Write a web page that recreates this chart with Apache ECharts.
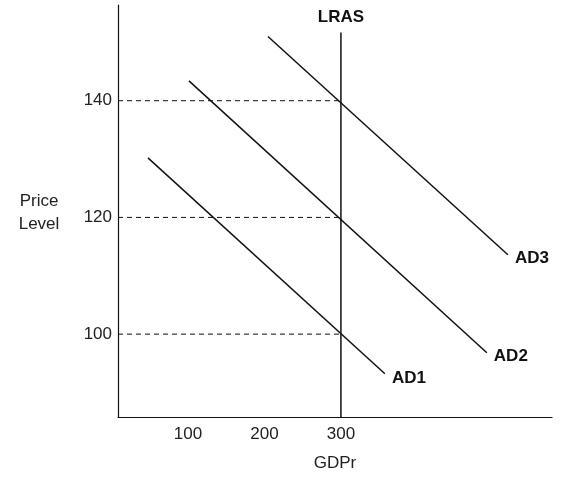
<!DOCTYPE html>
<html><head><meta charset="utf-8">
<script src="https://cdn.jsdelivr.net/npm/echarts@6/dist/echarts.min.js"></script>
<style>html,body{margin:0;background:#fff}#c{width:566px;height:477px}</style>
</head><body><div id="c"></div>
<script>
const xTicks=[100,200,300];
const yTicks=[100,120,140];
const ad1=[[47.7,130.2],[357.5,93.2]];
const ad2=[[101.3,143.4],[490.8,96.8]];
const ad3=[[204.6,151.0],[518.3,113.6]];
const lras=[[300,85.8],[300,151.7]];
const eqPrices=[100,120,140];
const LRAS_X=300;
const font='Liberation Sans, Arial, sans-serif';
function lineSeries(data,name){
  return {type:'line',data:data.map((d,i)=>i===data.length-1?{value:d,label:{show:true,formatter:name,position:'right',fontWeight:'bold',fontSize:17,color:'#111',fontFamily:font,offset:[2,4]}}:{value:d}),
    symbol:'circle',symbolSize:0.01,lineStyle:{color:'#111',width:1.5},z:3};
}
const series=[
  lineSeries(ad1,'AD1'),lineSeries(ad2,'AD2'),lineSeries(ad3,'AD3'),
  {type:'line',data:[{value:lras[0]},{value:lras[1],label:{show:true,formatter:'LRAS',position:'top',fontWeight:'bold',fontSize:17,color:'#111',fontFamily:font,offset:[0,-2]}}],symbol:'circle',symbolSize:0.01,lineStyle:{color:'#111',width:1.5}},
];
eqPrices.forEach(p=>series.push({type:'line',data:[[8.5,p],[LRAS_X,p]],symbol:'none',lineStyle:{color:'#111',width:1,type:[5,4]}}));
const chart=echarts.init(document.getElementById('c'));
chart.setOption({
  animation:false,
  grid:{left:118,right:14,top:5,bottom:53},
  xAxis:{type:'value',min:8.5,max:576,name:'GDPr',nameLocation:'middle',nameGap:38,
    nameTextStyle:{fontSize:17,color:'#222',fontFamily:font},
    axisLine:{lineStyle:{color:'#111',width:1.2}},axisTick:{show:false},splitLine:{show:false},
    axisLabel:{customValues:xTicks,fontSize:17,color:'#222',fontFamily:font,margin:9}},
  yAxis:{type:'value',min:85.8,max:156.4,
    axisLine:{show:true,lineStyle:{color:'#111',width:1.2}},axisTick:{show:false},splitLine:{show:false},
    axisLabel:{customValues:yTicks,fontSize:17,color:'#222',fontFamily:font,margin:6}},
  graphic:[{type:'text',x:39,y:190,style:{text:'Price\nLevel',font:'17px '+font,fill:'#222',align:'center',lineHeight:23}}],
  series
});
</script></body></html>
